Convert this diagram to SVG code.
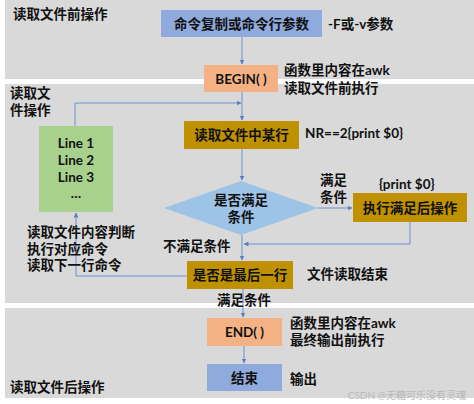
<svg xmlns="http://www.w3.org/2000/svg" width="474" height="404" viewBox="0 0 474 404">
<defs>
<marker id="arr" viewBox="0 0 10 10" refX="9" refY="5" markerWidth="5" markerHeight="5" orient="auto">
<path d="M0,0 L10,5 L0,10 z" fill="#5b7fc6"/>
</marker>
<style>
text{font-family:Lato,"Noto Sans CJK SC",sans-serif;font-weight:bold;font-size:13.5px;fill:#111;dominant-baseline:central}
.c{text-anchor:middle}
.panel{fill:#d9d9d9}
.line{fill:none;stroke:#6f8fcf;stroke-width:1}
.blue{fill:#8faadc}
.orange{fill:#f4b183}
.gold{fill:#bf9000}
.green{fill:#a9d18e}
.dia{fill:#9dc3e6}
</style>
</defs>
<rect width="474" height="404" fill="#fff"/>
<g id="panels">
<rect class="panel" x="5" y="0" width="469" height="79"/>
<rect class="panel" x="5" y="84" width="469" height="219"/>
<rect class="panel" x="5" y="308" width="469" height="90"/>
<text x="13" y="14">读取文件前操作</text>
<text x="10" y="93">读取文</text>
<text x="10" y="110">件操作</text>
<text x="10" y="387">读取文件后操作</text>
</g>
<g id="connectors">
<line class="line" x1="242" y1="37" x2="242" y2="64" marker-end="url(#arr)"/>
<line class="line" x1="242" y1="92" x2="242" y2="120" marker-end="url(#arr)"/>
<polyline class="line" points="75,126 75,103 241,103" marker-end="url(#arr)"/>
<line class="line" x1="242" y1="149" x2="242" y2="180" marker-end="url(#arr)"/>
<line class="line" x1="318" y1="208" x2="352" y2="208" marker-end="url(#arr)"/>
<polyline class="line" points="410,222 410,244 244,244" marker-end="url(#arr)"/>
<line class="line" x1="242" y1="235" x2="242" y2="260" marker-end="url(#arr)"/>
<polyline class="line" points="187,276 76,276 76,213" marker-end="url(#arr)"/>
<line class="line" x1="243" y1="289" x2="243" y2="317" marker-end="url(#arr)"/>
<line class="line" x1="244" y1="346" x2="244" y2="363" marker-end="url(#arr)"/>
</g>
<g id="n-cmd">
<rect class="blue" x="161" y="10" width="161" height="27"/>
<text class="c" x="241.5" y="24">命令复制或命令行参数</text>
<text x="328" y="24">-F或-v参数</text>
</g>
<g id="n-begin">
<rect class="orange" x="204" y="65" width="74" height="27"/>
<text class="c" x="241" y="79">BEGIN( )</text>
<text x="284" y="70">函数里内容在awk</text>
<text x="284" y="88">读取文件前执行</text>
</g>
<g id="n-lines">
<rect class="green" x="39" y="126" width="74" height="86"/>
<text class="c" x="76" y="143">Line 1</text>
<text class="c" x="76" y="160">Line 2</text>
<text class="c" x="76" y="177">Line 3</text>
<text class="c" x="76" y="193">…</text>
<text x="27" y="232">读取文件内容判断</text>
<text x="27" y="249">执行对应命令</text>
<text x="27" y="265">读取下一行命令</text>
</g>
<g id="n-read">
<rect class="gold" x="184" y="121" width="115" height="28"/>
<text class="c" x="241.5" y="135">读取文件中某行</text>
<text x="305" y="133">NR==2{print $0}</text>
</g>
<g id="n-cond">
<polygon class="dia" points="241,181 318,208 241,235 164,208"/>
<text class="c" x="241" y="200">是否满足</text>
<text class="c" x="241" y="217">条件</text>
<text x="320" y="180">满足</text>
<text x="320" y="197">条件</text>
<text x="163" y="246">不满足条件</text>
</g>
<g id="n-exec">
<rect class="gold" x="353" y="193" width="114" height="29"/>
<text class="c" x="410" y="208">执行满足后操作</text>
<text x="379" y="184">{print $0}</text>
</g>
<g id="n-last">
<rect class="gold" x="187" y="261" width="106" height="28"/>
<text class="c" x="240" y="275">是否是最后一行</text>
<text x="307" y="274">文件读取结束</text>
<text x="217" y="300">满足条件</text>
</g>
<g id="n-end">
<rect class="orange" x="207" y="318" width="75" height="28"/>
<text class="c" x="244.5" y="332">END( )</text>
<text x="290" y="323">函数里内容在awk</text>
<text x="290" y="340">最终输出前执行</text>
</g>
<g id="n-finish">
<rect class="blue" x="207" y="364" width="75" height="27"/>
<text class="c" x="244.5" y="378">结束</text>
<text x="290" y="379">输出</text>
</g>
<text x="466" y="395" style="font-size:10px;font-weight:normal;fill:#b8b8b8;text-anchor:end">CSDN @无糖可乐没有灵魂</text>
</svg>
